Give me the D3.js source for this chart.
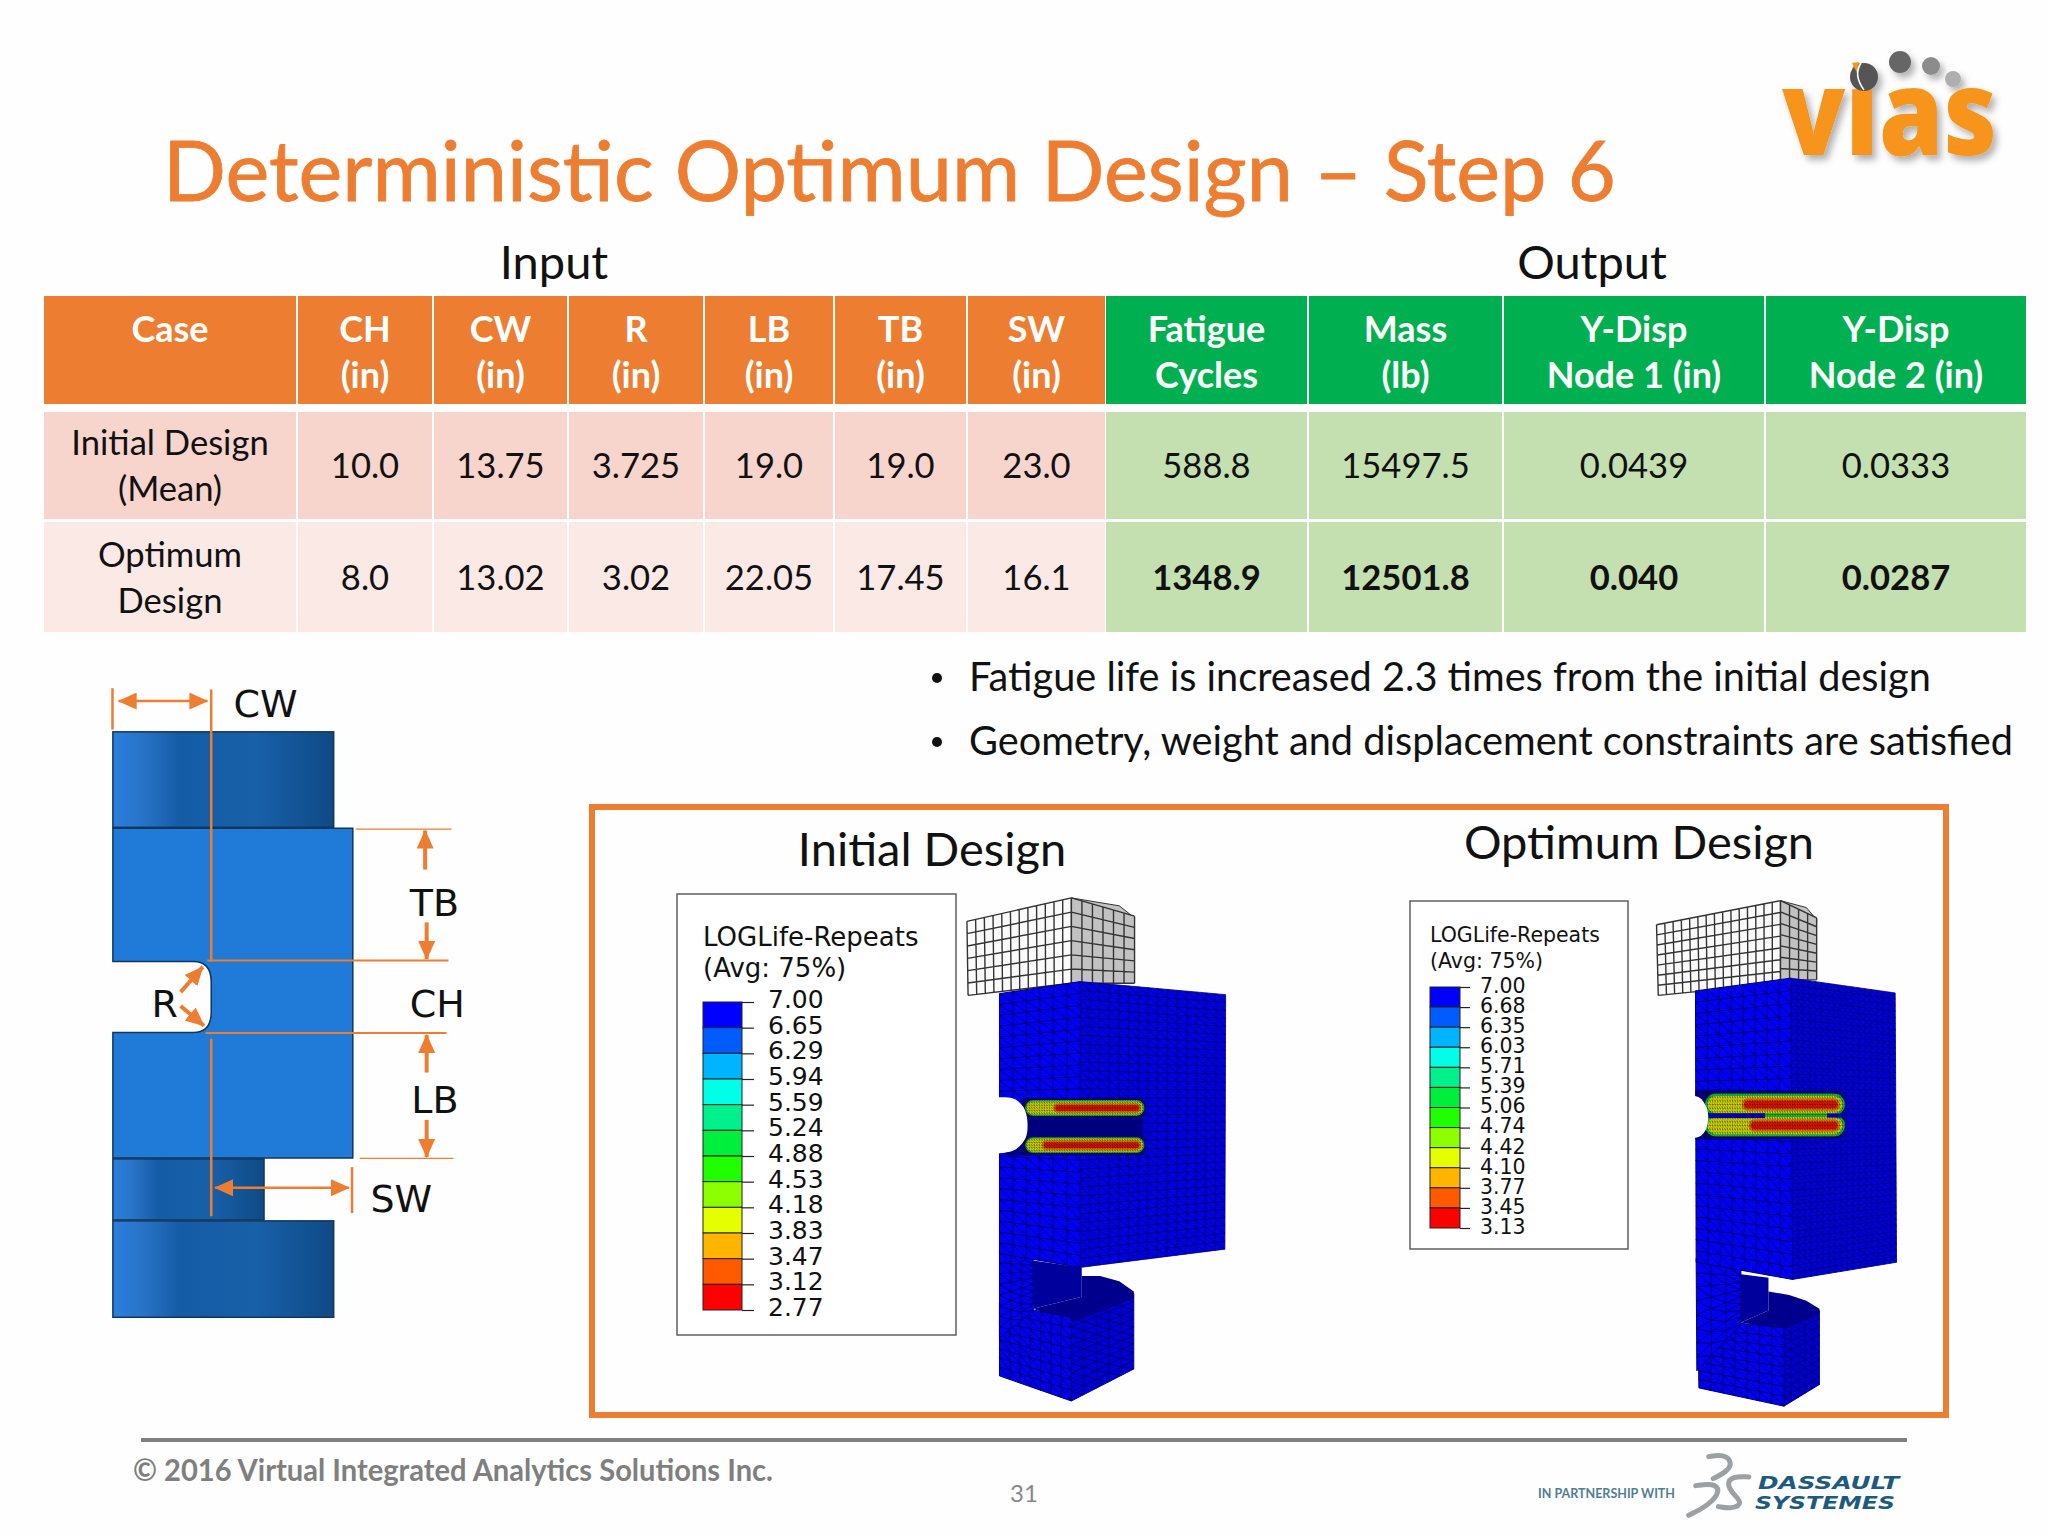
<!DOCTYPE html>
<html>
<head>
<meta charset="utf-8">
<script src="https://cdn.jsdelivr.net/npm/d3@7"></script>
<style>
  html, body { margin: 0; padding: 0; background: #fff; }
  text { font-family: Lato, "Open Sans", sans-serif; }
  .sim text { font-family: "DejaVu Sans", sans-serif; }
</style>
</head>
<body>
<div id="slide"></div>
<script>
// ---- table data
const columns = ["Case", "CH", "CW", "R", "LB", "TB", "SW", "Fatigue", "Mass", "Y-Disp1", "Y-Disp2"];
const headerLine1 = ["Case", "CH", "CW", "R", "LB", "TB", "SW", "Fatigue", "Mass", "Y-Disp", "Y-Disp"];
const headerLine2 = ["", "(in)", "(in)", "(in)", "(in)", "(in)", "(in)", "Cycles", "(lb)", "Node 1 (in)", "Node 2 (in)"];
const initialRow = ["Initial Design|(Mean)", "10.0", "13.75", "3.725", "19.0", "19.0", "23.0", "588.8", "15497.5", "0.0439", "0.0333"];
const optimumRow = ["Optimum|Design", "8.0", "13.02", "3.02", "22.05", "17.45", "16.1", "1348.9", "12501.8", "0.040", "0.0287"];
const outputColumns = ["Fatigue", "Mass", "Y-Disp1", "Y-Disp2"];

// ---- contour legends
const legendColors = ["#0000ff", "#005cff", "#00b4ff", "#00ffe6", "#00f08c", "#00ee3c", "#20ff00", "#8cff00", "#e6ff00", "#ffb400", "#ff5a00", "#ff0000"];
const initialTicks = ["7.00", "6.65", "6.29", "5.94", "5.59", "5.24", "4.88", "4.53", "4.18", "3.83", "3.47", "3.12", "2.77"];
const optimumTicks = ["7.00", "6.68", "6.35", "6.03", "5.71", "5.39", "5.06", "4.74", "4.42", "4.10", "3.77", "3.45", "3.13"];

const bullets = ["Fatigue life is increased 2.3 times from the initial design",
  "Geometry, weight and displacement constraints are satisfied"];

const ORANGE = "#ed7d31";
const GREEN = "#00b050";

const svg = d3.select("#slide").append("svg")
  .attr("width", 2048)
  .attr("height", 1536)
  .style("display", "block");
const defs = svg.append("defs");

svg.append("rect").attr("width", 2048).attr("height", 1536).attr("fill", "#fefefe");

// ---- title
svg.append("text")
  .attr("x", 163).attr("y", 201)
  .attr("font-size", 84)
  .attr("fill", ORANGE)
  .attr("stroke", ORANGE).attr("stroke-width", 0.8)
  .attr("textLength", 1453)
  .attr("lengthAdjust", "spacingAndGlyphs")
  .text("Deterministic Optimum Design – Step 6");

svg.append("text").attr("x", 554).attr("y", 279).attr("text-anchor", "middle")
  .attr("font-size", 47).attr("fill", "#111").text("Input");
svg.append("text").attr("x", 1592).attr("y", 279).attr("text-anchor", "middle")
  .attr("font-size", 47).attr("fill", "#111").text("Output");

// ---- table
const colEdges = d3.scaleOrdinal().domain(columns)
  .range([[44, 296], [298, 432], [434, 567], [569, 703], [705, 833], [835, 966], [968, 1105], [1106, 1307], [1309, 1502], [1504, 1764], [1766, 2026]]);
const colStart = d => colEdges(d)[0];
const colWidth = d => colEdges(d)[1] - colEdges(d)[0];
const colMid = d => colStart(d) + colWidth(d) / 2;
const isOutput = d => outputColumns.includes(d);

const rowsTop = d3.scaleOrdinal().domain(["head", "initial", "optimum"]).range([296, 412, 522]);
const rowsHeight = d3.scaleOrdinal().domain(["head", "initial", "optimum"]).range([108, 107, 110]);

const tableRows = [
  { key: "head", fill: d => isOutput(d) ? GREEN : ORANGE },
  { key: "initial", values: initialRow, fill: d => isOutput(d) ? "#c5e0b0" : "#f7d4cc" },
  { key: "optimum", values: optimumRow, fill: d => isOutput(d) ? "#c5e0b0" : "#fbe9e6" }
];

tableRows.forEach(function(row) {
  const y = rowsTop(row.key), h = rowsHeight(row.key);
  const g = svg.append("g").attr("class", "row-" + row.key);
  g.selectAll("rect").data(columns).enter().append("rect")
    .attr("x", colStart).attr("y", y)
    .attr("width", colWidth).attr("height", h)
    .attr("fill", row.fill);

  const cells = g.selectAll("text").data(columns).enter().append("text")
    .attr("text-anchor", "middle")
    .attr("font-size", row.key === "head" ? 36 : 34.6);

  if (row.key === "head") {
    cells.attr("fill", "#fff").attr("font-weight", 700)
      .each(function(d, i) {
        const t = d3.select(this);
        t.append("tspan").attr("x", colMid(d)).attr("y", 342).text(headerLine1[i]);
        if (headerLine2[i]) t.append("tspan").attr("x", colMid(d)).attr("y", 388).text(headerLine2[i]);
      });
  } else {
    const mid = y + h / 2 + 12.5;
    cells.attr("fill", "#111")
      .attr("font-weight", d => row.key === "optimum" && isOutput(d) ? 700 : 400)
      .each(function(d, i) {
        const t = d3.select(this);
        const lines = row.values[i].split("|");
        lines.forEach(function(line, k) {
          t.append("tspan").attr("x", colMid(d))
            .attr("y", mid + (k - (lines.length - 1) / 2) * 46)
            .text(line);
        });
      });
  }
});

// ---- bullets
const bulletY = d3.scalePoint().domain(bullets).range([691, 755]);
svg.selectAll(".bullet-text").data(bullets).enter().append("text")
  .attr("class", "bullet-text")
  .attr("x", 969).attr("y", d => bulletY(d))
  .attr("font-size", 39.7).attr("fill", "#111")
  .text(d => d);
svg.selectAll(".bullet-dot").data(bullets).enter().append("circle")
  .attr("class", "bullet-dot")
  .attr("cx", 937).attr("cy", d => bulletY(d) - 13)
  .attr("r", 5).attr("fill", "#111");

// ---- blue part sketch on the left, geometry given in crop coordinates
const sx = d3.scaleLinear().domain([0, 1568]).range([0, 600]);
const sy = d3.scaleLinear().domain([0, 1568]).range([640, 1360]);

const shade = defs.append("linearGradient").attr("id", "cylShade");
[[0, "#2b7fdc"], [0.14, "#2873c6"], [0.3, "#155ca6"], [0.65, "#1860a8"], [1, "#0f4a86"]].forEach(function(s) {
  shade.append("stop").attr("offset", s[0]).attr("stop-color", s[1]);
});

const sketch = svg.append("g").attr("class", "sketch");
const rectIn = (x0, y0, x1, y1, fill) => sketch.append("rect")
  .attr("x", sx(x0)).attr("y", sy(y0))
  .attr("width", sx(x1) - sx(x0)).attr("height", sy(y1) - sy(y0))
  .attr("fill", fill).attr("stroke", "#12365c").attr("stroke-width", 1.5);

rectIn(295, 200, 872, 408, "url(#cylShade)");
rectIn(295, 1130, 690, 1263, "url(#cylShade)");
rectIn(295, 1265, 872, 1475, "url(#cylShade)");

const bodyPath = d3.path();
bodyPath.moveTo(sx(295), sy(410));
bodyPath.lineTo(sx(922), sy(410));
bodyPath.lineTo(sx(922), sy(1128));
bodyPath.lineTo(sx(295), sy(1128));
bodyPath.lineTo(sx(295), sy(855));
bodyPath.lineTo(sx(505), sy(855));
bodyPath.quadraticCurveTo(sx(552), sy(855), sx(552), sy(810));
bodyPath.lineTo(sx(552), sy(745));
bodyPath.quadraticCurveTo(sx(552), sy(700), sx(505), sy(700));
bodyPath.lineTo(sx(295), sy(700));
bodyPath.closePath();
sketch.append("path").attr("d", bodyPath.toString())
  .attr("fill", "#1f7ad8").attr("stroke", "#12365c").attr("stroke-width", 1.5);

defs.append("marker").attr("id", "head")
  .attr("viewBox", "0 0 10 10").attr("refX", 9.5).attr("refY", 5)
  .attr("preserveAspectRatio", "none")
  .attr("markerUnits", "userSpaceOnUse")
  .attr("markerWidth", 19).attr("markerHeight", 17)
  .attr("orient", "auto-start-reverse")
  .append("path").attr("d", "M0,0L10,5L0,10Z").attr("fill", ORANGE);

// [x0, y0, x1, y1, width, arrow ends]
const dimLines = [
  [294, 105, 294, 195, 2.5, ""],
  [552, 108, 552, 700, 2.5, ""],
  [552, 868, 552, 1255, 2.5, ""],
  [930, 412, 1180, 412, 1.2, ""],
  [542, 698, 1172, 698, 2, ""],
  [537, 856, 1167, 856, 2, ""],
  [940, 1129, 1185, 1129, 1.2, ""],
  [920, 1148, 920, 1248, 2.5, ""],
  [310, 133, 542, 133, 2.5, "both"],
  [562, 1193, 912, 1193, 2.5, "both"],
  [1111, 500, 1111, 415, 4, "end"],
  [1115, 615, 1115, 695, 4, "end"],
  [1115, 942, 1115, 860, 4, "end"],
  [1115, 1045, 1115, 1126, 4, "end"],
  [472, 767, 530, 712, 4, "end"],
  [472, 797, 533, 840, 4, "end"]
];
sketch.selectAll(".dim").data(dimLines).enter().append("line")
  .attr("class", "dim")
  .attr("x1", d => sx(d[0])).attr("y1", d => sy(d[1]))
  .attr("x2", d => sx(d[2])).attr("y2", d => sy(d[3]))
  .attr("stroke", ORANGE).attr("stroke-width", d => d[4])
  .attr("marker-end", d => d[5] ? "url(#head)" : null)
  .attr("marker-start", d => d[5] === "both" ? "url(#head)" : null);

const dimLabels = [["CW", 610, 167], ["TB", 1071, 600], ["CH", 1071, 822], ["LB", 1075, 1030], ["R", 396, 822], ["SW", 968, 1245]];
sketch.selectAll(".dim-label").data(dimLabels).enter().append("text")
  .attr("class", "dim-label")
  .attr("x", d => sx(d[1])).attr("y", d => sy(d[2]))
  .attr("font-size", 38).attr("fill", "#111").style("font-family", "'DejaVu Sans'")
  .text(d => d[0]);

// ---- orange frame
svg.append("rect").attr("x", 592).attr("y", 807).attr("width", 1354).attr("height", 608)
  .attr("fill", "none").attr("stroke", ORANGE).attr("stroke-width", 6);
svg.append("text").attr("x", 932).attr("y", 866).attr("text-anchor", "middle")
  .attr("font-size", 47).attr("fill", "#111").text("Initial Design");
svg.append("text").attr("x", 1639).attr("y", 859).attr("text-anchor", "middle")
  .attr("font-size", 47).attr("fill", "#111").text("Optimum Design");

// ---- contour legends
function drawLegend(cfg) {
  const g = svg.append("g").attr("class", "sim");
  g.append("rect").attr("x", cfg.box[0]).attr("y", cfg.box[1])
    .attr("width", cfg.box[2] - cfg.box[0]).attr("height", cfg.box[3] - cfg.box[1])
    .attr("fill", "#fff").attr("stroke", "#555").attr("stroke-width", 1.4);
  g.append("text").attr("x", cfg.barX[0]).attr("y", cfg.titleY[0])
    .attr("font-size", cfg.titleSize).attr("fill", "#111").text("LOGLife-Repeats");
  g.append("text").attr("x", cfg.barX[0]).attr("y", cfg.titleY[1])
    .attr("font-size", cfg.titleSize).attr("fill", "#111").text("(Avg: 75%)");

  const y = d3.scalePoint().domain(cfg.ticks).range(cfg.barY);
  g.selectAll(".swatch").data(legendColors).enter().append("rect")
    .attr("class", "swatch")
    .attr("x", cfg.barX[0]).attr("width", cfg.barX[1] - cfg.barX[0])
    .attr("y", (d, i) => y(cfg.ticks[i]))
    .attr("height", y.step())
    .attr("fill", d => d)
    .attr("stroke", "#222").attr("stroke-width", 1);

  const axis = d3.axisRight(y).tickSize(cfg.tickLen).tickPadding(cfg.pad);
  const ag = g.append("g").attr("transform", `translate(${cfg.barX[1]},0)`).call(axis);
  ag.select(".domain").remove();
  ag.selectAll("line").attr("stroke", "#222").attr("stroke-width", 1.2);
  ag.selectAll("text").attr("font-size", cfg.labelSize).attr("fill", "#111")
    .attr("dy", cfg.labelDy)
    .style("font-family", "'DejaVu Sans'");
}

drawLegend({
  ticks: initialTicks, box: [677, 894, 956, 1335], barX: [703, 742], barY: [1002, 1310],
  titleY: [946, 977], titleSize: 26, labelSize: 25, labelDy: "0.22em", tickLen: 12, pad: 14
});
drawLegend({
  ticks: optimumTicks, box: [1410, 901, 1628, 1249], barX: [1430, 1460], barY: [987, 1228],
  titleY: [942, 968], titleSize: 20.5, labelSize: 20.5, labelDy: "0.26em", tickLen: 10, pad: 10
});

// ---- FE meshes
function quadLines(q, nu, nv, diag) {
  const at = function(u, v) {
    const tx = q[0][0] + (q[1][0] - q[0][0]) * u, ty = q[0][1] + (q[1][1] - q[0][1]) * u;
    const bx = q[3][0] + (q[2][0] - q[3][0]) * u, by = q[3][1] + (q[2][1] - q[3][1]) * u;
    return [tx + (bx - tx) * v, ty + (by - ty) * v];
  };
  const out = [];
  d3.range(nu + 1).forEach(i => out.push([at(i / nu, 0), at(i / nu, 1)]));
  d3.range(nv + 1).forEach(j => out.push([at(0, j / nv), at(1, j / nv)]));
  if (diag) {
    d3.range(nu).forEach(i => d3.range(nv).forEach(function(j) {
      out.push([at(i / nu, j / nv), at((i + 1) / nu, (j + 1) / nv)]);
    }));
  }
  return out;
}

function drawModel(m) {
  const x = d3.scaleLinear().domain([0, 1]).range([m.origin[0], m.origin[0] + 1 / m.zoomX]);
  const y = d3.scaleLinear().domain([0, 1]).range([m.origin[1], m.origin[1] + 1 / m.zoomY]);
  const g = svg.append("g").attr("class", "model");
  const line = d3.line().x(d => x(d[0])).y(d => y(d[1]));

  function face(q, fill, nu, nv, diag, stroke, sw) {
    g.append("path").attr("d", line(q) + "Z").attr("fill", fill);
    g.append("path")
      .attr("d", quadLines(q, nu, nv, diag).map(s => line(s)).join(""))
      .attr("fill", "none").attr("stroke", stroke).attr("stroke-width", sw);
  }

  g.append("path").attr("d", line(m.greyCap) + "Z").attr("fill", "#c2c2c2").attr("stroke", "#333");
  face(m.greyLeft, "#fafafa", m.greyN[0], m.greyN[2], false, "#333", 1.4);
  face(m.greyRight, "#c2c2c2", m.greyN[1], m.greyN[2], false, "#333", 1.4);
  g.append("path").attr("d", line(m.neck) + "Z").attr("fill", "#00009c");
  face(m.cylSide, "#0000d6", 5, 9, true, "#00006c", 0.9);
  g.append("path").attr("d", line(m.cylTop) + "Z").attr("fill", "#00008c");
  face(m.lowerFront, "#0000f6", 7, 8, true, "#00006a", 1);
  face(m.strip, "#0000f6", 3, 8, true, "#00006a", 1);
  face(m.right, "#0000e2", m.rightN[0], m.rightN[1], true, "#000070", 0.8);
  face(m.front, "#0000fa", m.frontN[0], m.frontN[1], true, "#00006a", 1);

  // gap of the notch, cut through the front of the part
  g.append("path").attr("d", line(m.channel) + "Z").attr("fill", "#00007c");
  const stripes = [[m.bandW[0], "#10d840"], [m.bandW[1], "#e8f000"], [m.bandW[2], "#ff8000"], [m.bandW[3], "#ff1000"]];
  m.bands.forEach(function(b) {
    stripes.forEach(function(s, k) {
      g.append("line")
        .attr("x1", x(k > 1 ? b[1] : b[0])).attr("x2", x(b[2]))
        .attr("y1", y(b[3])).attr("y2", y(b[3]))
        .attr("stroke", s[1]).attr("stroke-width", s[0] / m.zoomY)
        .attr("stroke-linecap", "round");
    });
    const half = m.bandW[0] / 2;
    const q = [[b[0] - half, b[3] - half], [b[2] + half, b[3] - half], [b[2] + half, b[3] + half], [b[0] - half, b[3] + half]];
    g.append("path")
      .attr("d", quadLines(q, m.bandN, 6, true).map(s => line(s)).join(""))
      .attr("fill", "none").attr("stroke", "#141400").attr("stroke-opacity", 0.38).attr("stroke-width", 0.8);
  });
  m.gaps.forEach(function(b) {
    g.append("line")
      .attr("x1", x(b[0])).attr("x2", x(b[1]))
      .attr("y1", y(b[2])).attr("y2", y(b[2]))
      .attr("stroke", "#0000a8").attr("stroke-width", b[3] / m.zoomY);
  });
  g.append("path").attr("d", d3.line().x(d => x(d[0])).y(d => y(d[1])).curve(d3.curveCatmullRom)(m.notch) + "Z")
    .attr("fill", "#fefefe");
}

drawModel({
  origin: [660, 880], zoomX: 2.613, zoomY: 2.904,
  greyCap: [[1075, 52], [1200, 75], [1240, 110], [1240, 120]],
  greyLeft: [[802, 120], [1075, 52], [1075, 300], [805, 335]],
  greyRight: [[1075, 52], [1240, 105], [1240, 300], [1075, 300]],
  greyN: [12, 6, 6], frontN: [6, 24], rightN: [15, 32],
  front: [[887, 330], [1098, 295], [1098, 1125], [887, 1085]],
  right: [[1098, 295], [1478, 333], [1476, 1072], [1098, 1125]],
  strip: [[887, 1080], [975, 1100], [975, 1250], [887, 1330]],
  neck: [[975, 1105], [1102, 1125], [1102, 1210], [975, 1245]],
  cylTop: [[1102, 1150], [1150, 1150], [1200, 1165], [1238, 1195], [1238, 1215], [1075, 1285], [975, 1245], [1102, 1210]],
  cylSide: [[1075, 1270], [1238, 1200], [1238, 1420], [1075, 1513]],
  lowerFront: [[887, 1230], [1075, 1270], [1075, 1513], [887, 1440]],
  channel: [[950, 632], [1262, 632], [1262, 800], [900, 800]],
  bands: [[975, 1040, 1245, 662], [975, 1010, 1245, 770]],
  bandW: [46, 38, 28, 16], bandN: 48, gaps: [],
  notch: [[870, 632], [925, 635], [950, 660], [960, 700], [955, 750], [925, 785], [870, 795]]
});
drawModel({
  origin: [1400, 880], zoomX: 2.904, zoomY: 2.904,
  greyCap: [[1105, 60], [1180, 80], [1210, 115], [1210, 125]],
  greyLeft: [[745, 130], [1105, 60], [1105, 300], [750, 335]],
  greyRight: [[1105, 60], [1210, 110], [1210, 290], [1105, 290]],
  greyN: [15, 4, 7], frontN: [8, 24], rightN: [17, 44],
  front: [[858, 322], [1135, 285], [1140, 1160], [860, 1110]],
  right: [[1135, 285], [1438, 328], [1442, 1110], [1140, 1160]],
  strip: [[860, 1100], [990, 1130], [990, 1290], [862, 1425]],
  neck: [[990, 1145], [1070, 1155], [1070, 1250], [990, 1285]],
  cylTop: [[1070, 1195], [1130, 1205], [1180, 1222], [1218, 1245], [1218, 1260], [1115, 1305], [990, 1285], [1070, 1250]],
  cylSide: [[1115, 1300], [1218, 1250], [1218, 1465], [1115, 1528]],
  lowerFront: [[865, 1275], [1115, 1300], [1115, 1528], [868, 1475]],
  channel: [[858, 608], [1280, 612], [1280, 750], [858, 755]],
  bands: [[918, 1010, 1260, 652], [918, 1030, 1260, 713]],
  bandW: [64, 50, 36, 22], bandN: 56,
  gaps: [[895, 1060, 684, 14], [1240, 1285, 684, 12]],
  notch: [[840, 625], [870, 632], [890, 660], [895, 690], [888, 725], [870, 745], [840, 750]]
});

// ---- footer
svg.append("rect").attr("x", 141).attr("y", 1438).attr("width", 1766).attr("height", 4).attr("fill", "#808080");
svg.append("text").attr("x", 133).attr("y", 1481)
  .attr("font-size", 30).attr("font-weight", 700).attr("fill", "#7f7f7f")
  .attr("textLength", 640).attr("lengthAdjust", "spacingAndGlyphs")
  .text("© 2016 Virtual Integrated Analytics Solutions Inc.");
svg.append("text").attr("x", 1024).attr("y", 1502).attr("text-anchor", "middle")
  .attr("font-size", 24).attr("fill", "#888").text("31");

svg.append("text").attr("x", 1538).attr("y", 1498)
  .attr("font-size", 13).attr("fill", "#4f7d95").attr("font-weight", 700)
  .attr("textLength", 137).attr("lengthAdjust", "spacingAndGlyphs")
  .text("IN PARTNERSHIP WITH");
[["DASSAULT", 1758, 1489, 141], ["SYSTEMES", 1755, 1509, 140]].forEach(function(w) {
  svg.append("text").attr("x", w[1]).attr("y", w[2])
    .attr("font-size", 17).attr("font-weight", 700).attr("font-style", "italic").attr("fill", "#1d5a7d")
    .attr("textLength", w[3]).attr("lengthAdjust", "spacingAndGlyphs")
    .style("font-family", "'DejaVu Sans'")
    .text(w[0]);
});
const lx = d3.scaleLinear().domain([0, 1568]).range([1500, 2048]);
const ly = d3.scaleLinear().domain([0, 392]).range([1400, 1537]);
const logoStrokes = [
  [[597, 162], [640, 155], [665, 178], [650, 205], [610, 225]],
  [[560, 245], [610, 238], [632, 258], [600, 300], [540, 330]],
  [[712, 220], [665, 218], [648, 240], [668, 270], [695, 295], [665, 312], [625, 305]]
];
svg.selectAll(".ds-logo").data(logoStrokes).enter().append("path")
  .attr("class", "ds-logo")
  .attr("d", d3.line().x(d => lx(d[0])).y(d => ly(d[1])).curve(d3.curveBasis))
  .attr("fill", "none").attr("stroke", "#9aa0a4").attr("stroke-width", 5).attr("stroke-linecap", "round");

// ---- vias logo
defs.append("filter").attr("id", "soft").attr("x", "-20%").attr("y", "-20%").attr("width", "150%").attr("height", "150%")
  .append("feDropShadow").attr("dx", 4).attr("dy", 5).attr("stdDeviation", 3.5)
  .attr("flood-color", "#000").attr("flood-opacity", 0.3);
const logo = svg.append("g").attr("filter", "url(#soft)");
logo.append("text").attr("x", 1782).attr("y", 155)
  .attr("font-size", 118).attr("font-weight", 800).attr("fill", "#f7941e")
  .attr("textLength", 215).attr("lengthAdjust", "spacingAndGlyphs")
  .style("font-family", "'Open Sans'")
  .text("vias");
[[1900, 62, 11, "#666"], [1931, 66, 9, "#8c8c8c"], [1953, 79, 8, "#aeaeae"], [1864, 77, 14, "#555"]].forEach(function(c) {
  logo.append("circle").attr("cx", c[0]).attr("cy", c[1]).attr("r", c[2]).attr("fill", c[3]);
});
svg.append("path").attr("d", "M1852,63L1859,62L1857,73Z").attr("fill", "#f7941e");
svg.append("path").attr("d", "M1861,63Q1853,75 1864,90").attr("fill", "none").attr("stroke", "#fff").attr("stroke-width", 1.6);
</script>
</body>
</html>
